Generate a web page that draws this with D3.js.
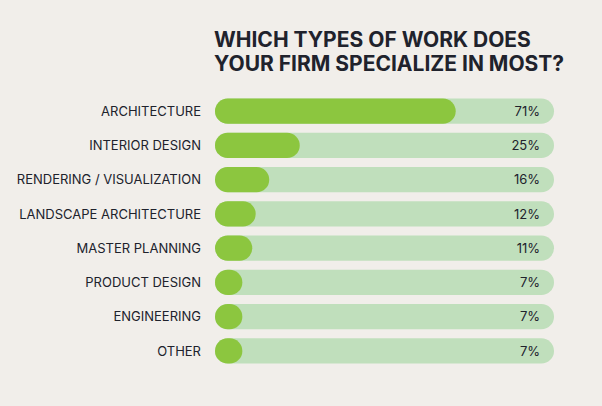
<!DOCTYPE html>
<html>
<head>
<meta charset="utf-8">
<script src="https://cdn.jsdelivr.net/npm/d3@7"></script>
<style>
    html, body { margin: 0; padding: 0; background: #f1eeea; }
    svg { display: block; }
</style>
</head>
<body>
<div id="chart"></div>
<script>
    var categories = ["ARCHITECTURE", "INTERIOR DESIGN", "RENDERING / VISUALIZATION",
        "LANDSCAPE ARCHITECTURE", "MASTER PLANNING", "PRODUCT DESIGN", "ENGINEERING", "OTHER"];
    var shares = [71, 25, 16, 12, 11, 7, 7, 7];
    var titleLines = ["WHICH TYPES OF WORK DOES", "YOUR FIRM SPECIALIZE IN MOST?"];

    var width = 602,
        height = 406,
        font = "Inter, 'Liberation Sans', sans-serif",
        ink = "#20222c";

    var svg = d3.select("#chart").append("svg")
        .attr("width", width)
        .attr("height", height);

    svg.append("rect")
        .attr("width", width)
        .attr("height", height)
        .attr("fill", "#f1eeea");

    // title, two lines
    svg.append("g").selectAll("text")
        .data(titleLines)
        .join("text")
        .attr("x", 214)
        .attr("y", function (d, i) { return 47 + i * 23.5; })
        .attr("font-family", font)
        .attr("font-weight", 700)
        .attr("font-size", 21)
        .attr("letter-spacing", 0)
        .attr("fill", ink)
        .text(function (d) { return d; });

    var x = d3.scaleLinear().domain([0, 100]).range([215, 554]);
    var y = d3.scaleBand().domain(categories).range([94, 368]).paddingInner(0.26).paddingOuter(0.13);
    var barH = y.bandwidth();

    var rows = svg.append("g").selectAll("g")
        .data(categories)
        .join("g")
        .attr("transform", function (d) { return "translate(0," + y(d) + ")"; });

    // track
    rows.append("rect")
        .attr("x", x(0))
        .attr("width", x(100) - x(0))
        .attr("height", barH)
        .attr("rx", barH / 2)
        .attr("fill", "#c0dfbc");

    // value bar, never narrower than a circle
    rows.append("rect")
        .attr("x", x(0))
        .attr("width", function (d, i) { return Math.max(x(shares[i]) - x(0), barH + 2); })
        .attr("height", barH)
        .attr("rx", barH / 2)
        .attr("fill", "#8cc63f");

    rows.append("text")
        .attr("x", 201)
        .attr("y", barH / 2)
        .attr("dy", "0.36em")
        .attr("text-anchor", "end")
        .attr("font-family", font)
        .attr("font-size", 13)
        .attr("fill", ink)
        .text(function (d) { return d; });

    rows.append("text")
        .attr("x", 540)
        .attr("y", barH / 2)
        .attr("dy", "0.36em")
        .attr("text-anchor", "end")
        .attr("font-family", font)
        .attr("font-size", 13)
        .attr("fill", ink)
        .text(function (d, i) { return shares[i] + "%"; });
</script>
</body>
</html>
